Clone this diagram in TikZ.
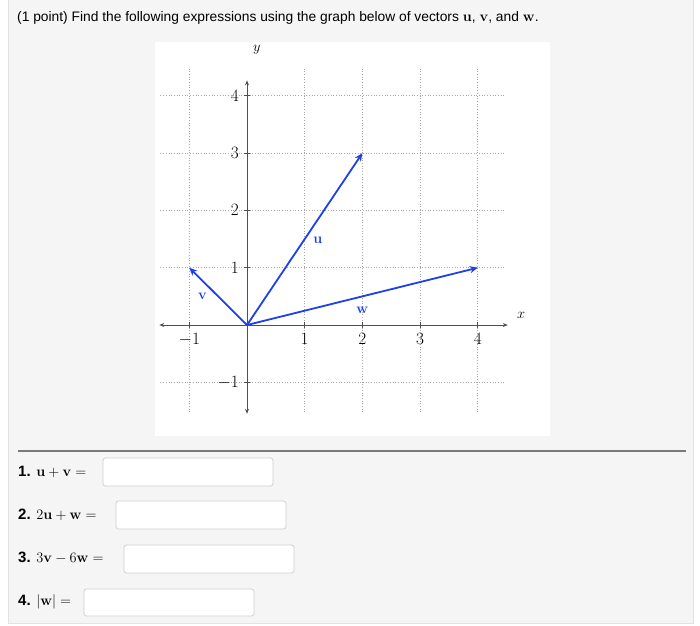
\documentclass[tikz,border=0pt]{standalone}
\usepackage[no-math]{fontspec}
\setmainfont{Liberation Sans}
\usetikzlibrary{arrows.meta}
\definecolor{panelbg}{HTML}{F5F5F5}
\definecolor{panelline}{HTML}{E2E2E2}
\definecolor{vecblue}{HTML}{1E40EC}
\definecolor{gridgray}{HTML}{A8A8A8}
\definecolor{axisgray}{HTML}{505050}
\definecolor{sepgray}{HTML}{7A7A7A}
\definecolor{boxline}{HTML}{D0D0D0}
\tikzset{
  ansbox/.style={draw=boxline, fill=white, rounded corners=2.5pt, line width=0.8pt},
  anslabel/.style={anchor=west, inner sep=0pt, font=\fontsize{15}{16}\selectfont},
  ticklab/.style={font=\fontsize{17}{17}\selectfont, inner sep=1pt},
  axlab/.style={font=\fontsize{14}{14}\selectfont, inner sep=0pt},
  veclab/.style={font=\fontsize{14}{14}\selectfont, text=vecblue, inner sep=0pt},
  vecarrow/.style={draw=vecblue, line width=1.8pt, -{Stealth[length=8pt,width=7pt]}},
  gridline/.style={draw=gridgray, dotted, line width=0.7pt},
  axisline/.style={draw=axisgray, line width=0.8pt, {Stealth[length=5pt,width=4pt]}-{Stealth[length=5pt,width=4pt]}},
}
\begin{document}
\begin{tikzpicture}[x=1pt,y=-1pt]
\useasboundingbox (0,0) rectangle (700,625);
\fill[white] (0,0) rectangle (700,625);
\draw[panelline, fill=panelbg, line width=0.8pt] (8,-5) rectangle (693,623);
\node[anchor=west, inner sep=0pt, font=\fontsize{13.8}{15}\selectfont] (title) at (17,18)
  {(1 point) Find the following expressions using the graph below of vectors $\mathbf{u}$, $\mathbf{v}$, and $\mathbf{w}$.};
\fill[white] (155,42) rectangle (550,436);
% graph
\begin{scope}[shift={(247,325)}, x=57.7pt, y=57.3pt]
  \foreach \i in {-1,1,2,3,4} \draw[gridline] (\i,-1.52) -- (\i,4.5);
  \foreach \j in {-1,1,2,3,4} \draw[gridline] (-1.5,\j) -- (4.45,\j);
  \coordinate (xl) at (-1.52,0);
  \coordinate (xr) at (4.52,0);
  \coordinate (yb) at (0,-1.55);
  \coordinate (yt) at (0,4.27);
  \draw[axisline] (xl) -- (xr);
  \draw[axisline] (yb) -- (yt);
  \foreach \i in {-1,1,2,3,4} {
    \draw[axisgray, line width=0.8pt] (\i,-0.05) -- (\i,0.05);
    \node[ticklab, anchor=north] (xt\i) at (\i,-0.13) {$\i$};
  }
  \foreach \j in {-1,1,2,3,4} {
    \draw[axisgray, line width=0.8pt] (-0.05,\j) -- (0.05,\j);
    \node[ticklab, anchor=east] (yt\j) at (-0.12,\j) {$\j$};
  }
  \node[axlab] (xlab) at (4.75,0.16) {$x$};
  \node[axlab] (ylab) at (0.17,4.8) {$y$};
  \coordinate (O) at (0,0);
  \coordinate (U) at (2,3);
  \coordinate (V) at (-1,1);
  \coordinate (W) at (4,1);
  \draw[vecarrow] (O) -- (U);
  \draw[vecarrow] (O) -- (V);
  \draw[vecarrow] (O) -- (W);
  \node[veclab] (ulab) at (1.23,1.48) {$\mathbf{u}$};
  \node[veclab] (vlab) at (-0.77,0.5) {$\mathbf{v}$};
  \node[veclab] (wlab) at (2.0,0.26) {$\mathbf{w}$};
\end{scope}
% separator
\draw[sepgray, line width=1.6pt] (18,451) -- (686,451);
% answers
\node[anslabel] (q1) at (18,472) {\textbf{1.} $\mathbf{u}+\mathbf{v}=$};
\draw[ansbox] (103,458) rectangle (273,486);
\node[anslabel] (q2) at (18,515) {\textbf{2.} $2\mathbf{u}+\mathbf{w}=$};
\draw[ansbox] (116,501) rectangle (286,529);
\node[anslabel] (q3) at (18,558) {\textbf{3.} $3\mathbf{v}-6\mathbf{w}=$};
\draw[ansbox] (124,545) rectangle (294,573);
\node[anslabel] (q4) at (18,602) {\textbf{4.} $|\mathbf{w}|=$};
\draw[ansbox] (84,589) rectangle (254,616);
\end{tikzpicture}
\end{document}
